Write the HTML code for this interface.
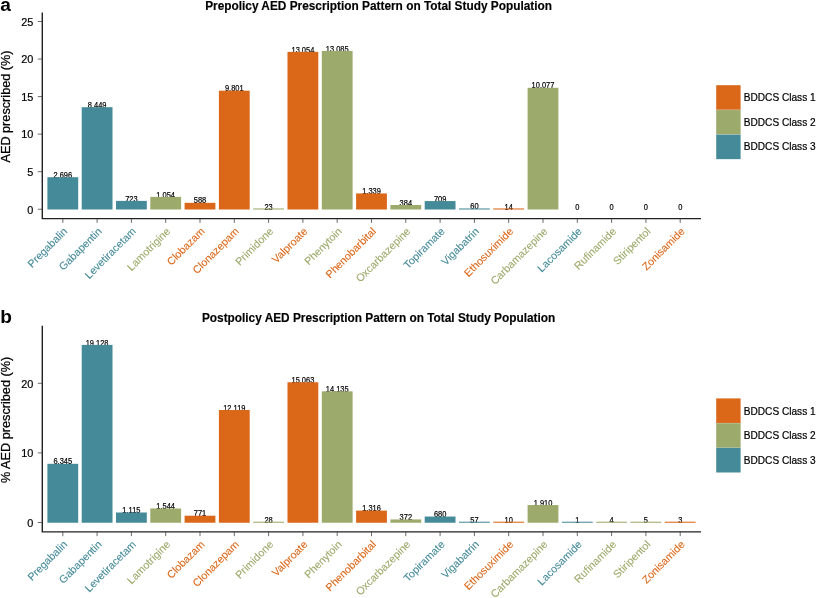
<!DOCTYPE html>
<html lang="en"><head><meta charset="utf-8"><title>AED Prescription Pattern</title>
<style>
html,body{margin:0;padding:0;background:#fff}
body{width:817px;height:598px;overflow:hidden}
svg{display:block;font-family:"Liberation Sans",Arial,Helvetica,sans-serif}
</style></head><body>
<svg width="817" height="598" viewBox="0 0 817 598">
<rect width="817" height="598" fill="#fff"/>
<text transform="translate(62.80 177.87) scale(0.9 1)" text-anchor="middle" font-size="8.3" fill="#000" stroke="#000" stroke-width="0.2">2,696</text>
<text transform="translate(97.10 107.85) scale(0.9 1)" text-anchor="middle" font-size="8.3" fill="#000" stroke="#000" stroke-width="0.2">8,449</text>
<text transform="translate(131.40 201.55) scale(0.9 1)" text-anchor="middle" font-size="8.3" fill="#000" stroke="#000" stroke-width="0.2">723</text>
<text transform="translate(165.70 197.54) scale(0.9 1)" text-anchor="middle" font-size="8.3" fill="#000" stroke="#000" stroke-width="0.2">1,054</text>
<text transform="translate(200.00 203.48) scale(0.9 1)" text-anchor="middle" font-size="8.3" fill="#000" stroke="#000" stroke-width="0.2">588</text>
<text transform="translate(234.30 91.35) scale(0.9 1)" text-anchor="middle" font-size="8.3" fill="#000" stroke="#000" stroke-width="0.2">9,801</text>
<text transform="translate(268.60 209.62) scale(0.9 1)" text-anchor="middle" font-size="8.3" fill="#000" stroke="#000" stroke-width="0.2">23</text>
<text transform="translate(302.90 52.52) scale(0.9 1)" text-anchor="middle" font-size="8.3" fill="#000" stroke="#000" stroke-width="0.2">13,054</text>
<text transform="translate(337.20 51.55) scale(0.9 1)" text-anchor="middle" font-size="8.3" fill="#000" stroke="#000" stroke-width="0.2">13,085</text>
<text transform="translate(371.50 194.10) scale(0.9 1)" text-anchor="middle" font-size="8.3" fill="#000" stroke="#000" stroke-width="0.2">1,339</text>
<text transform="translate(405.80 205.65) scale(0.9 1)" text-anchor="middle" font-size="8.3" fill="#000" stroke="#000" stroke-width="0.2">384</text>
<text transform="translate(440.10 201.72) scale(0.9 1)" text-anchor="middle" font-size="8.3" fill="#000" stroke="#000" stroke-width="0.2">709</text>
<text transform="translate(474.40 209.17) scale(0.9 1)" text-anchor="middle" font-size="8.3" fill="#000" stroke="#000" stroke-width="0.2">60</text>
<text transform="translate(508.70 209.73) scale(0.9 1)" text-anchor="middle" font-size="8.3" fill="#000" stroke="#000" stroke-width="0.2">14</text>
<text transform="translate(543.00 88.45) scale(0.9 1)" text-anchor="middle" font-size="8.3" fill="#000" stroke="#000" stroke-width="0.2">10,077</text>
<text transform="translate(577.30 209.90) scale(0.9 1)" text-anchor="middle" font-size="8.3" fill="#000" stroke="#000" stroke-width="0.2">0</text>
<text transform="translate(611.60 209.90) scale(0.9 1)" text-anchor="middle" font-size="8.3" fill="#000" stroke="#000" stroke-width="0.2">0</text>
<text transform="translate(645.90 209.90) scale(0.9 1)" text-anchor="middle" font-size="8.3" fill="#000" stroke="#000" stroke-width="0.2">0</text>
<text transform="translate(680.20 209.90) scale(0.9 1)" text-anchor="middle" font-size="8.3" fill="#000" stroke="#000" stroke-width="0.2">0</text>
<rect x="47.40" y="177.22" width="30.80" height="32.28" fill="#458A98"/>
<rect x="81.70" y="107.20" width="30.80" height="102.30" fill="#458A98"/>
<rect x="116.00" y="200.90" width="30.80" height="8.60" fill="#458A98"/>
<rect x="150.30" y="196.89" width="30.80" height="12.61" fill="#9CAA6B"/>
<rect x="184.60" y="202.83" width="30.80" height="6.67" fill="#DB6719"/>
<rect x="218.90" y="90.70" width="30.80" height="118.80" fill="#DB6719"/>
<rect x="253.20" y="208.45" width="30.80" height="1.05" fill="#9CAA6B"/>
<rect x="287.50" y="51.87" width="30.80" height="157.63" fill="#DB6719"/>
<rect x="321.80" y="50.90" width="30.80" height="158.60" fill="#9CAA6B"/>
<rect x="356.10" y="193.45" width="30.80" height="16.05" fill="#DB6719"/>
<rect x="390.40" y="205.00" width="30.80" height="4.50" fill="#9CAA6B"/>
<rect x="424.70" y="201.07" width="30.80" height="8.43" fill="#458A98"/>
<rect x="459.00" y="208.45" width="30.80" height="1.05" fill="#458A98"/>
<rect x="493.30" y="208.45" width="30.80" height="1.05" fill="#DB6719"/>
<rect x="527.60" y="87.80" width="30.80" height="121.70" fill="#9CAA6B"/>
<path d="M42.3 12.5 V218.6 H701.0" fill="none" stroke="#222" stroke-width="1.4"/>
<path d="M37.8 209.25 H42.3" stroke="#3a3a3a" stroke-width="0.75"/>
<text x="33.3" y="213.55" text-anchor="end" font-size="10.9" fill="#000" stroke="#000" stroke-width="0.2">0</text>
<path d="M37.8 171.70 H42.3" stroke="#3a3a3a" stroke-width="0.75"/>
<text x="33.3" y="176.00" text-anchor="end" font-size="10.9" fill="#000" stroke="#000" stroke-width="0.2">5</text>
<path d="M37.8 134.15 H42.3" stroke="#3a3a3a" stroke-width="0.75"/>
<text x="33.3" y="138.45" text-anchor="end" font-size="10.9" fill="#000" stroke="#000" stroke-width="0.2">10</text>
<path d="M37.8 96.60 H42.3" stroke="#3a3a3a" stroke-width="0.75"/>
<text x="33.3" y="100.90" text-anchor="end" font-size="10.9" fill="#000" stroke="#000" stroke-width="0.2">15</text>
<path d="M37.8 59.05 H42.3" stroke="#3a3a3a" stroke-width="0.75"/>
<text x="33.3" y="63.35" text-anchor="end" font-size="10.9" fill="#000" stroke="#000" stroke-width="0.2">20</text>
<path d="M37.8 21.50 H42.3" stroke="#3a3a3a" stroke-width="0.75"/>
<text x="33.3" y="25.80" text-anchor="end" font-size="10.9" fill="#000" stroke="#000" stroke-width="0.2">25</text>
<path d="M62.80 218.6 V222.9" stroke="#3a3a3a" stroke-width="0.75"/>
<text transform="translate(68.05 232.00) rotate(-45)" text-anchor="end" font-size="10.7" fill="#458A98" stroke="#458A98" stroke-width="0.08">Pregabalin</text>
<path d="M97.10 218.6 V222.9" stroke="#3a3a3a" stroke-width="0.75"/>
<text transform="translate(102.35 232.00) rotate(-45)" text-anchor="end" font-size="10.7" fill="#458A98" stroke="#458A98" stroke-width="0.08">Gabapentin</text>
<path d="M131.40 218.6 V222.9" stroke="#3a3a3a" stroke-width="0.75"/>
<text transform="translate(136.65 232.00) rotate(-45)" text-anchor="end" font-size="10.7" fill="#458A98" stroke="#458A98" stroke-width="0.08">Levetiracetam</text>
<path d="M165.70 218.6 V222.9" stroke="#3a3a3a" stroke-width="0.75"/>
<text transform="translate(170.95 232.00) rotate(-45)" text-anchor="end" font-size="10.7" fill="#9CAA6B" stroke="#9CAA6B" stroke-width="0.08">Lamotrigine</text>
<path d="M200.00 218.6 V222.9" stroke="#3a3a3a" stroke-width="0.75"/>
<text transform="translate(205.25 232.00) rotate(-45)" text-anchor="end" font-size="10.7" fill="#DB6719" stroke="#DB6719" stroke-width="0.08">Clobazam</text>
<path d="M234.30 218.6 V222.9" stroke="#3a3a3a" stroke-width="0.75"/>
<text transform="translate(239.55 232.00) rotate(-45)" text-anchor="end" font-size="10.7" fill="#DB6719" stroke="#DB6719" stroke-width="0.08">Clonazepam</text>
<path d="M268.60 218.6 V222.9" stroke="#3a3a3a" stroke-width="0.75"/>
<text transform="translate(273.85 232.00) rotate(-45)" text-anchor="end" font-size="10.7" fill="#9CAA6B" stroke="#9CAA6B" stroke-width="0.08">Primidone</text>
<path d="M302.90 218.6 V222.9" stroke="#3a3a3a" stroke-width="0.75"/>
<text transform="translate(308.15 232.00) rotate(-45)" text-anchor="end" font-size="10.7" fill="#DB6719" stroke="#DB6719" stroke-width="0.08">Valproate</text>
<path d="M337.20 218.6 V222.9" stroke="#3a3a3a" stroke-width="0.75"/>
<text transform="translate(342.45 232.00) rotate(-45)" text-anchor="end" font-size="10.7" fill="#9CAA6B" stroke="#9CAA6B" stroke-width="0.08">Phenytoin</text>
<path d="M371.50 218.6 V222.9" stroke="#3a3a3a" stroke-width="0.75"/>
<text transform="translate(376.75 232.00) rotate(-45)" text-anchor="end" font-size="10.7" fill="#DB6719" stroke="#DB6719" stroke-width="0.08">Phenobarbital</text>
<path d="M405.80 218.6 V222.9" stroke="#3a3a3a" stroke-width="0.75"/>
<text transform="translate(411.05 232.00) rotate(-45)" text-anchor="end" font-size="10.7" fill="#9CAA6B" stroke="#9CAA6B" stroke-width="0.08">Oxcarbazepine</text>
<path d="M440.10 218.6 V222.9" stroke="#3a3a3a" stroke-width="0.75"/>
<text transform="translate(445.35 232.00) rotate(-45)" text-anchor="end" font-size="10.7" fill="#458A98" stroke="#458A98" stroke-width="0.08">Topiramate</text>
<path d="M474.40 218.6 V222.9" stroke="#3a3a3a" stroke-width="0.75"/>
<text transform="translate(479.65 232.00) rotate(-45)" text-anchor="end" font-size="10.7" fill="#458A98" stroke="#458A98" stroke-width="0.08">Vigabatrin</text>
<path d="M508.70 218.6 V222.9" stroke="#3a3a3a" stroke-width="0.75"/>
<text transform="translate(513.95 232.00) rotate(-45)" text-anchor="end" font-size="10.7" fill="#DB6719" stroke="#DB6719" stroke-width="0.08">Ethosuximide</text>
<path d="M543.00 218.6 V222.9" stroke="#3a3a3a" stroke-width="0.75"/>
<text transform="translate(548.25 232.00) rotate(-45)" text-anchor="end" font-size="10.7" fill="#9CAA6B" stroke="#9CAA6B" stroke-width="0.08">Carbamazepine</text>
<path d="M577.30 218.6 V222.9" stroke="#3a3a3a" stroke-width="0.75"/>
<text transform="translate(582.55 232.00) rotate(-45)" text-anchor="end" font-size="10.7" fill="#458A98" stroke="#458A98" stroke-width="0.08">Lacosamide</text>
<path d="M611.60 218.6 V222.9" stroke="#3a3a3a" stroke-width="0.75"/>
<text transform="translate(616.85 232.00) rotate(-45)" text-anchor="end" font-size="10.7" fill="#9CAA6B" stroke="#9CAA6B" stroke-width="0.08">Rufinamide</text>
<path d="M645.90 218.6 V222.9" stroke="#3a3a3a" stroke-width="0.75"/>
<text transform="translate(651.15 232.00) rotate(-45)" text-anchor="end" font-size="10.7" fill="#9CAA6B" stroke="#9CAA6B" stroke-width="0.08">Stiripentol</text>
<path d="M680.20 218.6 V222.9" stroke="#3a3a3a" stroke-width="0.75"/>
<text transform="translate(685.45 232.00) rotate(-45)" text-anchor="end" font-size="10.7" fill="#DB6719" stroke="#DB6719" stroke-width="0.08">Zonisamide</text>
<text x="378.6" y="9.6" text-anchor="middle" font-size="11.85" font-weight="bold" fill="#000" stroke="#000" stroke-width="0.15">Prepolicy AED Prescription Pattern on Total Study Population</text>
<text transform="translate(10.2 106.5) rotate(-90)" text-anchor="middle" font-size="12.7" fill="#000" stroke="#000" stroke-width="0.25">AED prescribed (%)</text>
<text x="0.2" y="11.35" font-size="19.1" font-weight="bold" fill="#000">a</text>
<rect x="716.2" y="85.20" width="24.4" height="24.65" fill="#DB6719"/>
<text x="743.8" y="100.95" font-size="10.1" fill="#000" stroke="#000" stroke-width="0.2">BDDCS Class 1</text>
<rect x="716.2" y="109.85" width="24.4" height="24.65" fill="#9CAA6B"/>
<rect x="716.2" y="109.60" width="24.4" height="0.5" fill="#fff" fill-opacity="0.35"/>
<text x="743.8" y="125.60" font-size="10.1" fill="#000" stroke="#000" stroke-width="0.2">BDDCS Class 2</text>
<rect x="716.2" y="134.50" width="24.4" height="24.65" fill="#458A98"/>
<rect x="716.2" y="134.25" width="24.4" height="0.5" fill="#fff" fill-opacity="0.35"/>
<text x="743.8" y="150.25" font-size="10.1" fill="#000" stroke="#000" stroke-width="0.2">BDDCS Class 3</text>
<text transform="translate(62.80 464.46) scale(0.9 1)" text-anchor="middle" font-size="8.3" fill="#000" stroke="#000" stroke-width="0.2">6,345</text>
<text transform="translate(97.10 345.55) scale(0.9 1)" text-anchor="middle" font-size="8.3" fill="#000" stroke="#000" stroke-width="0.2">19,128</text>
<text transform="translate(131.40 513.15) scale(0.9 1)" text-anchor="middle" font-size="8.3" fill="#000" stroke="#000" stroke-width="0.2">1,115</text>
<text transform="translate(165.70 509.15) scale(0.9 1)" text-anchor="middle" font-size="8.3" fill="#000" stroke="#000" stroke-width="0.2">1,544</text>
<text transform="translate(200.00 516.36) scale(0.9 1)" text-anchor="middle" font-size="8.3" fill="#000" stroke="#000" stroke-width="0.2">771</text>
<text transform="translate(234.30 410.65) scale(0.9 1)" text-anchor="middle" font-size="8.3" fill="#000" stroke="#000" stroke-width="0.2">12,119</text>
<text transform="translate(268.60 522.89) scale(0.9 1)" text-anchor="middle" font-size="8.3" fill="#000" stroke="#000" stroke-width="0.2">28</text>
<text transform="translate(302.90 382.93) scale(0.9 1)" text-anchor="middle" font-size="8.3" fill="#000" stroke="#000" stroke-width="0.2">15,063</text>
<text transform="translate(337.20 391.98) scale(0.9 1)" text-anchor="middle" font-size="8.3" fill="#000" stroke="#000" stroke-width="0.2">14,135</text>
<text transform="translate(371.50 511.27) scale(0.9 1)" text-anchor="middle" font-size="8.3" fill="#000" stroke="#000" stroke-width="0.2">1,316</text>
<text transform="translate(405.80 520.08) scale(0.9 1)" text-anchor="middle" font-size="8.3" fill="#000" stroke="#000" stroke-width="0.2">372</text>
<text transform="translate(440.10 517.21) scale(0.9 1)" text-anchor="middle" font-size="8.3" fill="#000" stroke="#000" stroke-width="0.2">680</text>
<text transform="translate(474.40 522.62) scale(0.9 1)" text-anchor="middle" font-size="8.3" fill="#000" stroke="#000" stroke-width="0.2">57</text>
<text transform="translate(508.70 523.06) scale(0.9 1)" text-anchor="middle" font-size="8.3" fill="#000" stroke="#000" stroke-width="0.2">10</text>
<text transform="translate(543.00 505.73) scale(0.9 1)" text-anchor="middle" font-size="8.3" fill="#000" stroke="#000" stroke-width="0.2">1,910</text>
<text transform="translate(577.30 523.14) scale(0.9 1)" text-anchor="middle" font-size="8.3" fill="#000" stroke="#000" stroke-width="0.2">1</text>
<text transform="translate(611.60 523.11) scale(0.9 1)" text-anchor="middle" font-size="8.3" fill="#000" stroke="#000" stroke-width="0.2">4</text>
<text transform="translate(645.90 523.10) scale(0.9 1)" text-anchor="middle" font-size="8.3" fill="#000" stroke="#000" stroke-width="0.2">5</text>
<text transform="translate(680.20 523.12) scale(0.9 1)" text-anchor="middle" font-size="8.3" fill="#000" stroke="#000" stroke-width="0.2">3</text>
<rect x="47.40" y="463.81" width="30.80" height="58.94" fill="#458A98"/>
<rect x="81.70" y="344.90" width="30.80" height="177.85" fill="#458A98"/>
<rect x="116.00" y="512.50" width="30.80" height="10.25" fill="#458A98"/>
<rect x="150.30" y="508.50" width="30.80" height="14.25" fill="#9CAA6B"/>
<rect x="184.60" y="515.71" width="30.80" height="7.04" fill="#DB6719"/>
<rect x="218.90" y="410.00" width="30.80" height="112.75" fill="#DB6719"/>
<rect x="253.20" y="521.70" width="30.80" height="1.05" fill="#9CAA6B"/>
<rect x="287.50" y="382.28" width="30.80" height="140.47" fill="#DB6719"/>
<rect x="321.80" y="391.33" width="30.80" height="131.42" fill="#9CAA6B"/>
<rect x="356.10" y="510.62" width="30.80" height="12.13" fill="#DB6719"/>
<rect x="390.40" y="519.43" width="30.80" height="3.32" fill="#9CAA6B"/>
<rect x="424.70" y="516.56" width="30.80" height="6.19" fill="#458A98"/>
<rect x="459.00" y="521.70" width="30.80" height="1.05" fill="#458A98"/>
<rect x="493.30" y="521.70" width="30.80" height="1.05" fill="#DB6719"/>
<rect x="527.60" y="505.08" width="30.80" height="17.67" fill="#9CAA6B"/>
<rect x="561.90" y="521.70" width="30.80" height="1.05" fill="#458A98"/>
<rect x="596.20" y="521.70" width="30.80" height="1.05" fill="#9CAA6B"/>
<rect x="630.50" y="521.70" width="30.80" height="1.05" fill="#9CAA6B"/>
<rect x="664.80" y="521.70" width="30.80" height="1.05" fill="#DB6719"/>
<path d="M42.3 325.7 V531.85 H701.0" fill="none" stroke="#222" stroke-width="1.4"/>
<path d="M37.8 522.50 H42.3" stroke="#3a3a3a" stroke-width="0.75"/>
<text x="33.3" y="526.80" text-anchor="end" font-size="10.9" fill="#000" stroke="#000" stroke-width="0.2">0</text>
<path d="M37.8 452.90 H42.3" stroke="#3a3a3a" stroke-width="0.75"/>
<text x="33.3" y="457.20" text-anchor="end" font-size="10.9" fill="#000" stroke="#000" stroke-width="0.2">10</text>
<path d="M37.8 383.30 H42.3" stroke="#3a3a3a" stroke-width="0.75"/>
<text x="33.3" y="387.60" text-anchor="end" font-size="10.9" fill="#000" stroke="#000" stroke-width="0.2">20</text>
<path d="M62.80 531.85 V536.15" stroke="#3a3a3a" stroke-width="0.75"/>
<text transform="translate(68.05 545.15) rotate(-45)" text-anchor="end" font-size="10.7" fill="#458A98" stroke="#458A98" stroke-width="0.08">Pregabalin</text>
<path d="M97.10 531.85 V536.15" stroke="#3a3a3a" stroke-width="0.75"/>
<text transform="translate(102.35 545.15) rotate(-45)" text-anchor="end" font-size="10.7" fill="#458A98" stroke="#458A98" stroke-width="0.08">Gabapentin</text>
<path d="M131.40 531.85 V536.15" stroke="#3a3a3a" stroke-width="0.75"/>
<text transform="translate(136.65 545.15) rotate(-45)" text-anchor="end" font-size="10.7" fill="#458A98" stroke="#458A98" stroke-width="0.08">Levetiracetam</text>
<path d="M165.70 531.85 V536.15" stroke="#3a3a3a" stroke-width="0.75"/>
<text transform="translate(170.95 545.15) rotate(-45)" text-anchor="end" font-size="10.7" fill="#9CAA6B" stroke="#9CAA6B" stroke-width="0.08">Lamotrigine</text>
<path d="M200.00 531.85 V536.15" stroke="#3a3a3a" stroke-width="0.75"/>
<text transform="translate(205.25 545.15) rotate(-45)" text-anchor="end" font-size="10.7" fill="#DB6719" stroke="#DB6719" stroke-width="0.08">Clobazam</text>
<path d="M234.30 531.85 V536.15" stroke="#3a3a3a" stroke-width="0.75"/>
<text transform="translate(239.55 545.15) rotate(-45)" text-anchor="end" font-size="10.7" fill="#DB6719" stroke="#DB6719" stroke-width="0.08">Clonazepam</text>
<path d="M268.60 531.85 V536.15" stroke="#3a3a3a" stroke-width="0.75"/>
<text transform="translate(273.85 545.15) rotate(-45)" text-anchor="end" font-size="10.7" fill="#9CAA6B" stroke="#9CAA6B" stroke-width="0.08">Primidone</text>
<path d="M302.90 531.85 V536.15" stroke="#3a3a3a" stroke-width="0.75"/>
<text transform="translate(308.15 545.15) rotate(-45)" text-anchor="end" font-size="10.7" fill="#DB6719" stroke="#DB6719" stroke-width="0.08">Valproate</text>
<path d="M337.20 531.85 V536.15" stroke="#3a3a3a" stroke-width="0.75"/>
<text transform="translate(342.45 545.15) rotate(-45)" text-anchor="end" font-size="10.7" fill="#9CAA6B" stroke="#9CAA6B" stroke-width="0.08">Phenytoin</text>
<path d="M371.50 531.85 V536.15" stroke="#3a3a3a" stroke-width="0.75"/>
<text transform="translate(376.75 545.15) rotate(-45)" text-anchor="end" font-size="10.7" fill="#DB6719" stroke="#DB6719" stroke-width="0.08">Phenobarbital</text>
<path d="M405.80 531.85 V536.15" stroke="#3a3a3a" stroke-width="0.75"/>
<text transform="translate(411.05 545.15) rotate(-45)" text-anchor="end" font-size="10.7" fill="#9CAA6B" stroke="#9CAA6B" stroke-width="0.08">Oxcarbazepine</text>
<path d="M440.10 531.85 V536.15" stroke="#3a3a3a" stroke-width="0.75"/>
<text transform="translate(445.35 545.15) rotate(-45)" text-anchor="end" font-size="10.7" fill="#458A98" stroke="#458A98" stroke-width="0.08">Topiramate</text>
<path d="M474.40 531.85 V536.15" stroke="#3a3a3a" stroke-width="0.75"/>
<text transform="translate(479.65 545.15) rotate(-45)" text-anchor="end" font-size="10.7" fill="#458A98" stroke="#458A98" stroke-width="0.08">Vigabatrin</text>
<path d="M508.70 531.85 V536.15" stroke="#3a3a3a" stroke-width="0.75"/>
<text transform="translate(513.95 545.15) rotate(-45)" text-anchor="end" font-size="10.7" fill="#DB6719" stroke="#DB6719" stroke-width="0.08">Ethosuximide</text>
<path d="M543.00 531.85 V536.15" stroke="#3a3a3a" stroke-width="0.75"/>
<text transform="translate(548.25 545.15) rotate(-45)" text-anchor="end" font-size="10.7" fill="#9CAA6B" stroke="#9CAA6B" stroke-width="0.08">Carbamazepine</text>
<path d="M577.30 531.85 V536.15" stroke="#3a3a3a" stroke-width="0.75"/>
<text transform="translate(582.55 545.15) rotate(-45)" text-anchor="end" font-size="10.7" fill="#458A98" stroke="#458A98" stroke-width="0.08">Lacosamide</text>
<path d="M611.60 531.85 V536.15" stroke="#3a3a3a" stroke-width="0.75"/>
<text transform="translate(616.85 545.15) rotate(-45)" text-anchor="end" font-size="10.7" fill="#9CAA6B" stroke="#9CAA6B" stroke-width="0.08">Rufinamide</text>
<path d="M645.90 531.85 V536.15" stroke="#3a3a3a" stroke-width="0.75"/>
<text transform="translate(651.15 545.15) rotate(-45)" text-anchor="end" font-size="10.7" fill="#9CAA6B" stroke="#9CAA6B" stroke-width="0.08">Stiripentol</text>
<path d="M680.20 531.85 V536.15" stroke="#3a3a3a" stroke-width="0.75"/>
<text transform="translate(685.45 545.15) rotate(-45)" text-anchor="end" font-size="10.7" fill="#DB6719" stroke="#DB6719" stroke-width="0.08">Zonisamide</text>
<text x="378.6" y="321.7" text-anchor="middle" font-size="11.85" font-weight="bold" fill="#000" stroke="#000" stroke-width="0.15">Postpolicy AED Prescription Pattern on Total Study Population</text>
<text transform="translate(10.2 419.9) rotate(-90)" text-anchor="middle" font-size="12.7" fill="#000" stroke="#000" stroke-width="0.25">% AED prescribed (%)</text>
<text x="0.2" y="323.3" font-size="19.1" font-weight="bold" fill="#000">b</text>
<rect x="716.2" y="398.40" width="24.4" height="24.7" fill="#DB6719"/>
<text x="743.8" y="414.60" font-size="10.1" fill="#000" stroke="#000" stroke-width="0.2">BDDCS Class 1</text>
<rect x="716.2" y="423.10" width="24.4" height="24.7" fill="#9CAA6B"/>
<rect x="716.2" y="422.85" width="24.4" height="0.5" fill="#fff" fill-opacity="0.35"/>
<text x="743.8" y="439.30" font-size="10.1" fill="#000" stroke="#000" stroke-width="0.2">BDDCS Class 2</text>
<rect x="716.2" y="447.80" width="24.4" height="24.7" fill="#458A98"/>
<rect x="716.2" y="447.55" width="24.4" height="0.5" fill="#fff" fill-opacity="0.35"/>
<text x="743.8" y="464.00" font-size="10.1" fill="#000" stroke="#000" stroke-width="0.2">BDDCS Class 3</text>
</svg>
</body></html>
